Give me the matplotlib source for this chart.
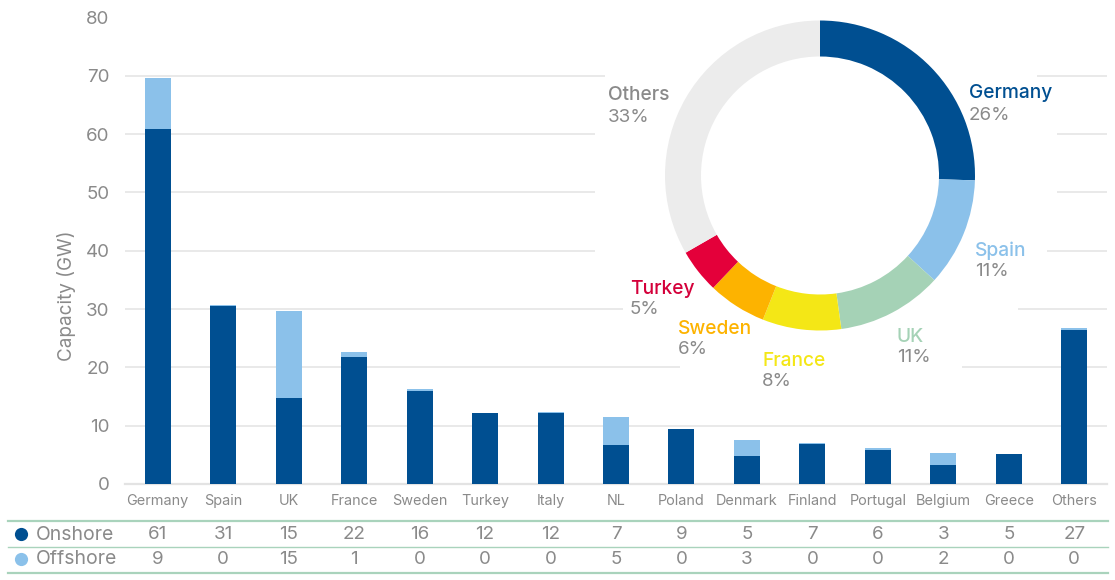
import matplotlib
matplotlib.use("Agg")
import matplotlib.pyplot as plt
from matplotlib.patches import Polygon
from matplotlib.transforms import blended_transform_factory

plt.rcParams['font.family'] = ['Inter', 'DejaVu Sans']

countries = ['Germany', 'Spain', 'UK', 'France', 'Sweden', 'Turkey', 'Italy', 'NL', 'Poland',
             'Denmark', 'Finland', 'Portugal', 'Belgium', 'Greece', 'Others']
onshore = [60.8, 30.5, 14.8, 21.7, 16.0, 12.2, 12.1, 6.7, 9.4, 4.8, 6.8, 5.9, 3.2, 5.2, 26.4]
offshore = [8.8, 0.2, 14.8, 1.0, 0.3, 0.0, 0.3, 4.8, 0.0, 2.8, 0.2, 0.2, 2.2, 0.0, 0.3]
onshore_labels = [61, 31, 15, 22, 16, 12, 12, 7, 9, 5, 7, 6, 3, 5, 27]
offshore_labels = [9, 0, 15, 1, 0, 0, 0, 5, 0, 3, 0, 0, 2, 0, 0]
y_ticks = [0, 10, 20, 30, 40, 50, 60, 70, 80]

share_names = ['Germany', 'Spain', 'UK', 'France', 'Sweden', 'Turkey', 'Others']
share_labels = [26, 11, 11, 8, 6, 5, 33]
share_values = [25.5, 11.3, 11.0, 8.2, 6.1, 4.6, 33.3]
share_colors = ['#004f91', '#8bc1ea', '#a5d2b6', '#f4e716', '#fdb300', '#e4003a', '#ececec']
share_text_colors = ['#004f91', '#8bc1ea', '#a5d2b6', '#f4e716', '#fdb300', '#d4003a', '#8a8a8a']
share_label_pos = [(969, 92), (975, 249), (897, 335), (762, 359), (678, 327), (630, 287), (608, 94)]

W, H = 1115, 580
DARK, LIGHT, GREY, GRID, RULE = '#004f91', '#8bc1ea', '#8a8a8a', '#e3e3e3', '#a9d3bc'


def fx(px):
    return px / W


def fy(py):
    return 1 - py / H


fig = plt.figure(figsize=(W / 100, H / 100), dpi=100, facecolor='white')
ax = fig.add_axes([fx(125), fy(484), (1107 - 125) / W, (484 - 17.5) / H])
x = list(range(len(countries)))
bar_w = 26 / 65.43
ax.bar(x, onshore, width=bar_w, color=DARK, zorder=4)
ax.bar(x, offshore, width=bar_w, bottom=onshore, color=LIGHT, zorder=4)
ax.set_xlim(-0.5, len(countries) - 0.5)
ax.set_ylim(0, 80)
ax.set_yticks(y_ticks)
ax.set_xticks(x)
ax.set_xticklabels(countries)
ax.tick_params(axis='x', length=0, pad=7, labelsize=10.4, labelcolor=GREY)
ax.tick_params(axis='y', length=0, pad=11, labelsize=13.5, labelcolor=GREY)
ax.grid(axis='y', color=GRID, lw=1.1, zorder=1)
ax.set_axisbelow(True)
for s in ['top', 'right', 'left']:
    ax.spines[s].set_visible(False)
ax.spines['bottom'].set_color(GRID)
ax.spines['bottom'].set_linewidth(1.6)
ax.text(66 / W, fy(296), 'Capacity (GW)', transform=fig.transFigure, rotation=90,
        ha='center', va='center', fontsize=13.6, color=GREY)

# white area that interrupts the gridlines around the doughnut
mask_px = [(605, 50), (1037, 50), (1037, 105), (1057, 105), (1057, 220), (1047, 220), (1047, 280),
           (1018, 280), (1018, 340), (962, 340), (962, 400), (680, 400), (680, 340), (623, 340),
           (623, 280), (595, 280), (595, 105), (605, 105)]
ax.add_patch(Polygon([(fx(a), fy(b)) for a, b in mask_px], closed=True, transform=fig.transFigure,
                     facecolor='white', edgecolor='none', zorder=2, clip_on=False))

# table under the chart
for py, lw in [(521, 1.6), (546.5, 1.0), (573, 1.6)]:
    fig.add_artist(plt.Line2D([fx(8), fx(1108)], [fy(py), fy(py)], color=RULE, lw=lw))
tr = blended_transform_factory(ax.transData, fig.transFigure)
for row_y, name, colour, labels in [(534.5, 'Onshore', DARK, onshore_labels),
                                    (559.5, 'Offshore', LIGHT, offshore_labels)]:
    fig.add_artist(plt.Line2D([fx(21)], [fy(row_y - 1)], marker='o', ms=9.5, color=colour, mec='none'))
    fig.text(fx(36), fy(row_y), name, fontsize=14, color=GREY, ha='left', va='center')
    for i, v in zip(x, labels):
        ax.text(i, fy(row_y), str(v), transform=tr, fontsize=13.5, color=GREY,
                ha='center', va='center', clip_on=False)

# doughnut
cx, cy, r_out, r_in = 820, 175.5, 155, 119
pie_ax = fig.add_axes([fx(cx - r_out), fy(cy + r_out), 2 * r_out / W, 2 * r_out / H], zorder=5)
pie_ax.pie(share_values, colors=share_colors, startangle=90, counterclock=False, radius=1,
           wedgeprops={'width': 1 - r_in / r_out, 'linewidth': 0})
pie_ax.set_xlim(-1, 1)
pie_ax.set_ylim(-1, 1)
pie_ax.patch.set_alpha(0)
for name, val, col, (px, py) in zip(share_names, share_labels, share_text_colors, share_label_pos):
    fig.text(fx(px), fy(py + 1.5), name, fontsize=13.8, color=col, fontweight='medium', ha='left', va='center', zorder=6)
    fig.text(fx(px), fy(py + 23), f'{val}%', fontsize=13.5, color=GREY, ha='left', va='center', zorder=6)

fig.savefig('out.png', dpi=100, facecolor='white')
